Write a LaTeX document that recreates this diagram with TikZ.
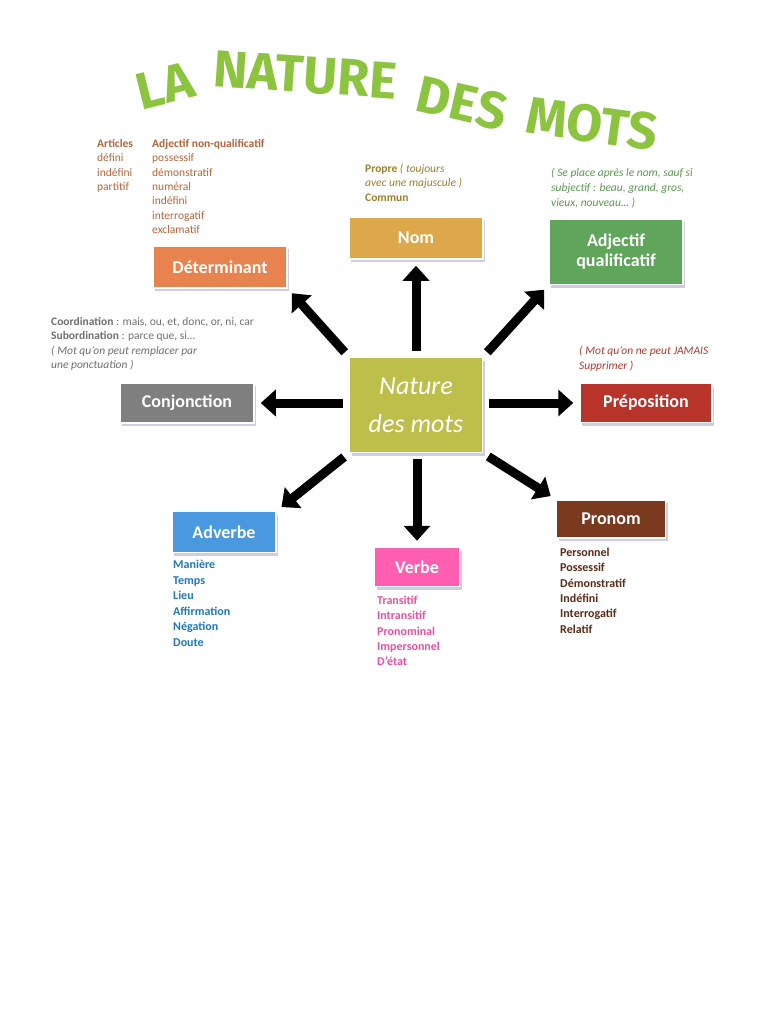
\documentclass[tikz,border=0pt]{standalone}
\usepackage{fontspec}
\setmainfont{Carlito}
\newfontfamily\titlefont{Fira Sans}
\usetikzlibrary{arrows.meta,shadows}
\definecolor{cdet}{HTML}{E8834F}
\definecolor{cnom}{HTML}{DDA84A}
\definecolor{cadj}{HTML}{5FA55A}
\definecolor{cconj}{HTML}{7F7F7F}
\definecolor{ccen}{HTML}{BDBF4A}
\definecolor{cprep}{HTML}{B8332A}
\definecolor{cadv}{HTML}{4A98E0}
\definecolor{cverb}{HTML}{FF5FB0}
\definecolor{cpron}{HTML}{7A3A20}
\definecolor{tdet}{HTML}{B8643A}
\definecolor{tnom}{HTML}{A08030}
\definecolor{tadj}{HTML}{5A9A50}
\definecolor{tconj}{HTML}{707070}
\definecolor{tprep}{HTML}{B83A30}
\definecolor{tadv}{HTML}{1F78C0}
\definecolor{tverb}{HTML}{F050A0}
\definecolor{tpron}{HTML}{5A2A18}
\definecolor{ttl}{HTML}{8CC43F}
\tikzset{
 box/.style={draw=white,line width=1.5pt,text=white,font=\bfseries\fontsize{18}{20}\selectfont,
   align=center,inner sep=0pt,drop shadow={fill=blue!20!gray!40,shadow xshift=2pt,shadow yshift=-3pt,opacity=.8}},
 note/.style={anchor=north west,inner sep=0pt,align=left,font=\fontsize{11.5}{14.4}\selectfont},
 bigarrow/.style={line width=9pt,-{Triangle[length=15pt,width=26pt]},shorten <=6pt,shorten >=6pt},
 tl/.style={font=\titlefont\bfseries\fontsize{52}{52}\selectfont,text=ttl,inner sep=0pt},
}
\begin{document}
\begin{tikzpicture}[x=1pt,y=-1pt]
\useasboundingbox[fill=white] (0,0) rectangle (768,1024);
% title
\node[tl,rotate=14] (t1) at (165,86) {LA};
\node[tl,rotate=-4] (t2) at (305,75) {NATURE};
\node[tl,rotate=-13] (t3) at (462,103) {DES};
\node[tl,rotate=-8] (t4) at (592,124) {MOTS};
% boxes
\node[box,fill=cdet,minimum width=134pt,minimum height=42pt] (det) at (220,267) {Déterminant};
\node[box,fill=cnom,minimum width=134pt,minimum height=42pt] (nom) at (416,238) {Nom};
\node[box,fill=cadj,minimum width=134pt,minimum height=65pt] (adj) at (616,252) {Adjectif\\qualificatif};
\node[box,fill=cconj,minimum width=134pt,minimum height=40pt] (conj) at (187,403) {Conjonction};
\node[box,fill=ccen,minimum width=133pt,minimum height=95pt,font=\itshape\fontsize{26}{38}\selectfont] (cen) at (416,405) {Nature\\des mots};
\node[box,fill=cprep,minimum width=132pt,minimum height=39pt] (prep) at (646,403) {Préposition};
\node[box,fill=cadv,minimum width=104pt,minimum height=41pt] (adv) at (224,532) {Adverbe};
\node[box,fill=cverb,minimum width=85pt,minimum height=39pt] (verb) at (417,567) {Verbe};
\node[box,fill=cpron,minimum width=109pt,minimum height=38pt] (pron) at (611,519) {Pronom};
% arrows
\draw[bigarrow] (cen.north) -- (nom.south);
\draw[bigarrow] (cen.north west) -- (det.south east);
\draw[bigarrow] (cen.north east) -- (adj.south west);
\draw[bigarrow] (cen.west |- conj.east) -- (conj.east);
\draw[bigarrow] (cen.east |- prep.west) -- (prep.west);
\draw[bigarrow] (cen.south west) -- (adv.north east);
\draw[bigarrow] (cen.south -| verb.north) -- (verb.north);
\draw[bigarrow] (cen.south east) -- (pron.north west);
% notes
\node[note,text=tdet] (n1) at (97,139) {\textbf{Articles}\\défini\\indéfini\\partitif};
\node[note,text=tdet] (n2) at (152,139) {\textbf{Adjectif non-qualificatif}\\possessif\\démonstratif\\numéral\\indéfini\\interrogatif\\exclamatif};
\node[note,text=tnom] (n3) at (365,164) {\textbf{Propre} \textit{( toujours}\\\textit{avec une majuscule )}\\\textbf{Commun}};
\node[note,text=tadj,font=\itshape\fontsize{11.5}{15}\selectfont] (n4) at (551,168) {( Se place après le nom, sauf si\\subjectif : beau, grand, gros,\\vieux, nouveau… )};
\node[note,text=tconj] (n5) at (51,317) {\textbf{Coordination} : mais, ou, et, donc, or, ni, car\\\textbf{Subordination} : parce que, si…\\\textit{( Mot qu’on peut remplacer par}\\\textit{une ponctuation )}};
\node[note,text=tprep,font=\itshape\fontsize{11.5}{14.5}\selectfont] (n6) at (579,346) {( Mot qu’on ne peut JAMAIS\\Supprimer )};
\node[note,text=tadv,font=\bfseries\fontsize{12}{15.5}\selectfont] (n7) at (173,560) {Manière\\Temps\\Lieu\\Affirmation\\Négation\\Doute};
\node[note,text=tverb,font=\bfseries\fontsize{12}{15.3}\selectfont] (n8) at (377,596) {Transitif\\Intransitif\\Pronominal\\Impersonnel\\D’état};
\node[note,text=tpron,font=\bfseries\fontsize{12}{15.3}\selectfont] (n9) at (560,548) {Personnel\\Possessif\\Démonstratif\\Indéfini\\Interrogatif\\Relatif};
\end{tikzpicture}
\end{document}
